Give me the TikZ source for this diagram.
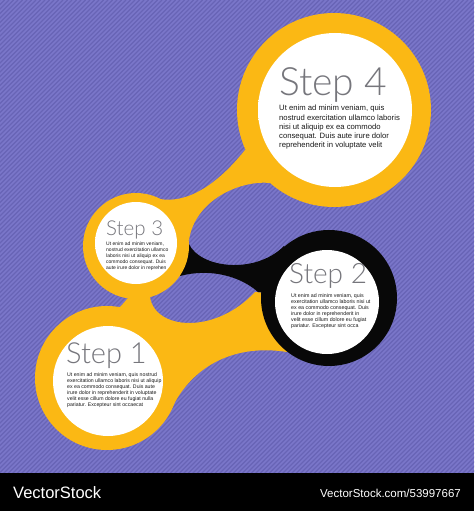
\documentclass[tikz,border=0pt]{standalone}
\usepackage{fontspec}
\newfontfamily\stepfont{Lato Light}
\newfontfamily\bodyfont{Liberation Sans}
\usetikzlibrary{positioning}
\definecolor{bgpurple}{RGB}{122,118,201}
\definecolor{stripe}{RGB}{104,100,182}
\definecolor{ringyellow}{RGB}{251,184,20}
\definecolor{ringblack}{RGB}{8,8,8}
\definecolor{titlegray}{RGB}{118,118,124}
\definecolor{diskedge}{RGB}{192,195,210}
\pgfdeclareradialshading{diskshade}{\pgfpoint{0bp}{0bp}}{color(0bp)=(white); color(26bp)=(white); color(50bp)=(diskedge)}

\begin{document}
\begin{tikzpicture}[x=1pt,y=-1pt,
  ring/.style={circle, inner sep=0pt, minimum size=#1pt},
  disk/.style={circle, inner sep=0pt, minimum size=#1pt, shading=diskshade},
  title/.style={anchor=base west, inner sep=0pt, text=titlegray, font=\stepfont\fontsize{#1}{#1}\selectfont},
  body/.style args={#1/#2}{inner sep=0pt, align=left, text=black!90, font=\bodyfont\fontsize{#1}{#2}\selectfont},
  foot/.style={inner sep=0pt, text=white, font=\bodyfont\fontsize{#1}{#1}\selectfont}]
\useasboundingbox (0,0) rectangle (474,511);
% background with stripes
\fill[bgpurple] (0,0) rectangle (474,511);
\begin{scope}
\clip (0,0) rectangle (474,473);
\foreach \i in {-520,-515.5,...,480} \draw[stripe, line width=1.1pt] (\i,511) -- ++(511,-511);
\end{scope}
% bridges
\fill[ringyellow] (136,246) -- (145,194) .. controls (170,207) and (205,200) .. (245,150) -- (334,110)
  -- (270,183) .. controls (240,180) and (195,200) .. (189,240) -- cycle;
\fill[ringyellow] (107,378) -- (118,309) .. controls (124,303) and (126,300) .. (128,298) -- (136,246)
  -- (150,297) .. controls (155,330) and (215,335) .. (255,292) -- (329,298)
  -- (287,352) .. controls (230,343) and (190,370) .. (172,408) -- cycle;
\fill[ringblack] (136,246) -- (189,244) .. controls (200,268) and (255,275) .. (284,246) -- (329,298)
  -- (258,292) .. controls (240,276) and (210,268) .. (180,276) -- cycle;
% rings
\node[ring=136, fill=ringblack] (ring2) at (329,298) {};
\node[ring=194, fill=ringyellow] (ring4) at (334,110) {};
\node[ring=106, fill=ringyellow] (ring3) at (136,246) {};
\node[ring=144, fill=ringyellow] (ring1) at (107,378) {};
\node[disk=154] (disk4) at (335,110) {};
\node[disk=82] (disk3) at (136,243) {};
\node[disk=104] (disk2) at (327,302) {};
\node[disk=110] (disk1) at (108,381) {};
% texts
\node[title=39] (title4) at (279,95) {Step 4};
\node (body4) [body=7.7/9.3, below=10pt of title4.base west, anchor=north west]
  {Ut enim ad minim veniam, quis\\nostrud exercitation ullamco laboris\\nisi ut aliquip ex ea commodo\\consequat. Duis aute irure dolor\\reprehenderit in voluptate velit};
\node[title=20.5] (title3) at (106,235) {Step 3};
\node (body3) [body=5/6, below=6.5pt of title3.base west, anchor=north west]
  {Ut enim ad minim veniam,\\nostrud exercitation ullamco\\laboris nisi ut aliquip ex ea\\commodo consequat. Duis\\aute irure dolor in reprehen};
\node[title=28] (title2) at (289,283) {Step 2};
\node (body2) [body=5.3/6, below=10.5pt of title2.base west, anchor=north west, xshift=2pt]
  {Ut enim ad minim veniam, quis\\exercitation ullamco laboris nisi ut\\ex ea commodo consequat. Duis\\irure dolor in reprehenderit in\\velit esse cillum dolore eu fugiat\\pariatur. Excepteur sint occa};
\node[title=29] (title1) at (66,363) {Step 1};
\node (body1) [body=5.2/6, below=10pt of title1.base west, anchor=north west, xshift=1pt]
  {Ut enim ad minim veniam, quis nostrud\\exercitation ullamco laboris nisi ut aliquip\\ex ea commodo consequat. Duis aute\\irure dolor in reprehenderit in voluptate\\velit esse cillum dolore eu fugiat nulla\\pariatur. Excepteur sint occaecat};
% footer
\fill[black] (0,473) rectangle (474,511);
\node[foot=16.5, anchor=base west] (logo) at (13,498) {VectorStock};
\node[foot=11.5, anchor=base east] (url) at (461,497) {VectorStock.com/53997667};
\end{tikzpicture}
\end{document}
